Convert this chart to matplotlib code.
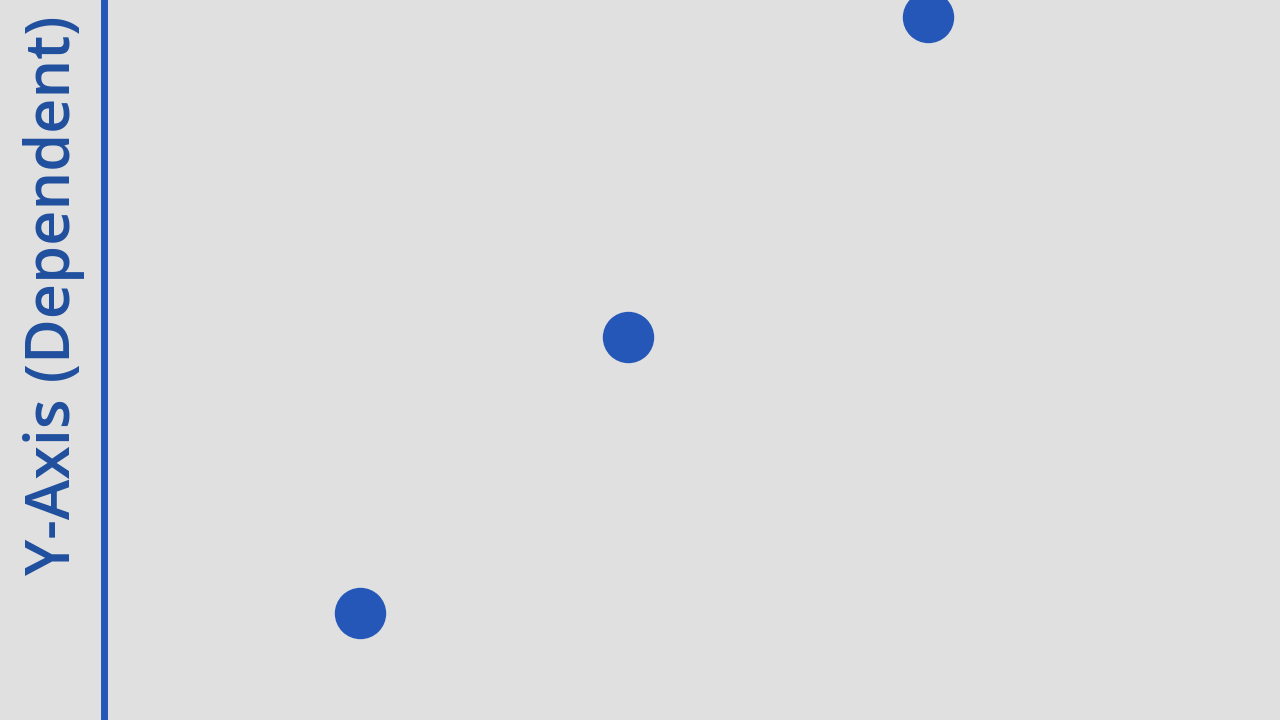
import matplotlib
matplotlib.use("Agg")
import matplotlib.pyplot as plt

x_vals = [2.18, 4.46, 7.01]
y_vals = [1.49, 5.32, 9.76]
y_label = "Y-Axis (Dependent)"

bg = "#e0e0e0"
blue = "#2457b8"
text_blue = "#1f4f9e"

fig = plt.figure(figsize=(12.8, 7.2), dpi=100, facecolor=bg)
ax = fig.add_axes([103.5 / 1280, 0, 1 - 103.5 / 1280, 1])
ax.set_facecolor(bg)

ax.plot(x_vals, y_vals, "o", color=blue, markersize=37, markeredgewidth=0,
        clip_on=False)

ax.set_xlim(0, 10)
ax.set_ylim(0, 10)
for side in ["top", "right", "bottom"]:
    ax.spines[side].set_visible(False)
ax.spines["left"].set_color(blue)
ax.spines["left"].set_linewidth(5)
ax.set_xticks([])
ax.set_yticks([])

fig.text(54 / 1280, 1 - 295 / 720, y_label, rotation=90, color=text_blue,
         fontsize=44, fontweight="semibold", family=["Open Sans", "DejaVu Sans"],
         ha="center", va="center")

fig.savefig("out.png", dpi=100, facecolor=bg)
